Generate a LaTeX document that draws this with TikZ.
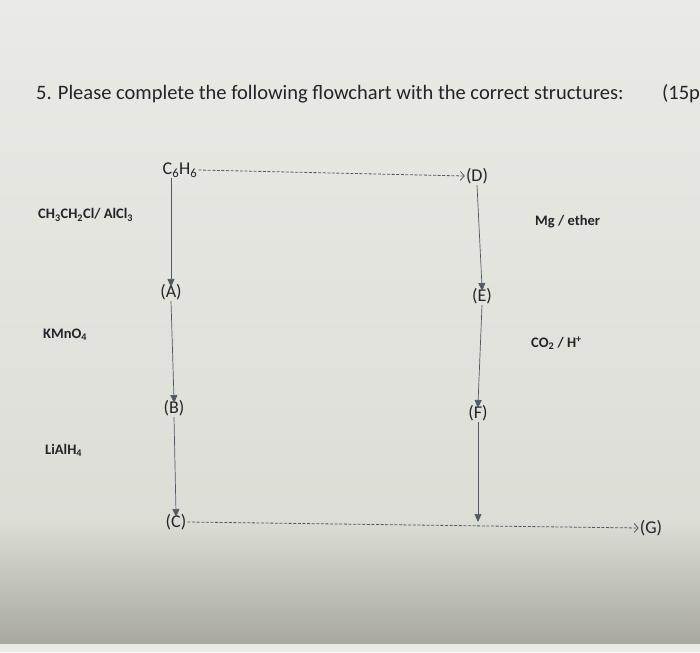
\documentclass[tikz,border=0pt]{standalone}
\usepackage{fontspec}
\setmainfont{Carlito}
\usetikzlibrary{arrows.meta}
\definecolor{ink}{RGB}{35,35,42}
\definecolor{wire}{RGB}{80,90,100}
\definecolor{bgtop}{RGB}{234,234,230}
\definecolor{bgmid}{RGB}{220,222,214}
\definecolor{bgbot}{RGB}{168,168,160}
\tikzset{
  lbl/.style={font=\fontsize{18}{20}\selectfont, inner sep=1pt},
  reagent/.style={font=\bfseries\fontsize{14.5}{16}\selectfont, anchor=west, inner sep=0pt},
  down/.style={draw=wire, line width=0.7pt, -{Triangle[width=7pt,length=8pt]}, shorten >=-4pt},
  across/.style={draw=wire, line width=0.8pt, dash pattern=on 3pt off 1.6pt, -{Straight Barb[length=4pt,width=9pt]}}
}
\begin{document}
\begin{tikzpicture}[x=1pt,y=-1pt, every node/.style={text=ink}]
        \useasboundingbox (0,0) rectangle (700,652);
        \clip (0,0) rectangle (700,652);
        % screen background
        \shade[top color=bgtop, bottom color=bgmid] (0,0) rectangle (700,520);
        \shade[top color=bgmid, bottom color=bgbot] (0,520) rectangle (700,644);
        \fill[bgtop] (0,644) rectangle (700,652);

        \node[anchor=base west, font=\fontsize{20.5}{24}\selectfont, inner sep=0pt] (title) at (36,100)
            {5. Please complete the following flowchart with the correct structures:};
        \node[anchor=base west, font=\fontsize{20.5}{24}\selectfont, inner sep=0pt] (points) at (662,100) {(15p};

        % compounds
        \node[lbl] (c6h6) at (180,170) {C\textsubscript{6}H\textsubscript{6}};
        \node[lbl] (A) at (171,292) {(A)};
        \node[lbl] (B) at (174,408) {(B)};
        \node[lbl] (C) at (176,522) {(C)};
        \node[lbl] (D) at (477,176) {(D)};
        \node[lbl] (E) at (482,296) {(E)};
        \node[lbl] (F) at (478,413) {(F)};
        \node[lbl] (G) at (651,528) {(G)};

        % reagents
        \node[reagent] (r1) at (38,215) {CH\textsubscript{3}CH\textsubscript{2}Cl/ AlCl\textsubscript{3}};
        \node[reagent] (r2) at (43,335) {KMnO\textsubscript{4}};
        \node[reagent] (r3) at (45,450) {LiAlH\textsubscript{4}};
        \node[reagent] (r4) at (535,222) {Mg / ether};
        \node[reagent] (r5) at (531,343) {CO\textsubscript{2} / H\textsuperscript{+}};

        % arrows
        \draw[down] (c6h6.south -| A) -- (A.north);
        \draw[down] (A.south) -- (B.north);
        \draw[down] (B.south) -- (C.north);
        \draw[down] (D.south) -- (E.north);
        \draw[down] (E.south) -- (F.north);
        \coordinate (fg) at (F |- C);
        \draw[down, shorten >=0pt] (F.south) -- (fg);
        \draw[across] (c6h6.east) -- (D.west);
        \draw[across] (C.east) -- (G.west);
\end{tikzpicture}
\end{document}
